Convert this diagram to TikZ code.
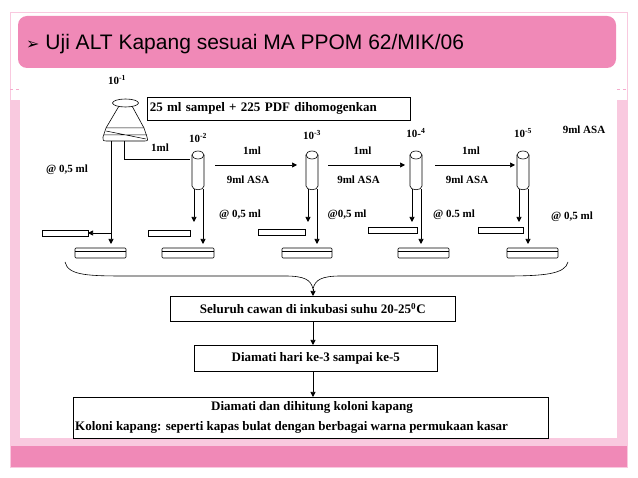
\documentclass[tikz,border=0pt]{standalone}
\usepackage{fontspec}
\setmainfont{Liberation Serif}
\newfontfamily\titlefont{Liberation Sans}
\newfontfamily\symfont{DejaVu Sans}
\usetikzlibrary{arrows.meta}
\definecolor{pinkdark}{HTML}{F089B7}
\definecolor{pinklight}{HTML}{F9C9DF}
\tikzset{
  lbl/.style={font=\fontsize{11}{13}\selectfont\bfseries, inner sep=0pt},
  stepbox/.style={draw, line width=0.6pt, fill=white, font=\fontsize{13}{15}\selectfont\bfseries},
  arr/.style={line width=0.7pt, -{Triangle[length=5pt,width=5pt]}},
  plate/.style={draw, line width=0.6pt, fill=white},
}
\begin{document}
\begin{tikzpicture}[x=1pt,y=-1pt]
\useasboundingbox (0,0) rectangle (638,478);
\fill[white] (0,0) rectangle (638,478);
% slide frame
\fill[pinklight] (10,100) rectangle (627,446);
\fill[white] (20,100) rectangle (617,438);
\fill[pinkdark] (10,446) rectangle (627,467);
\draw[pinklight, line width=0.5pt] (10,12) rectangle (627,467);
\draw[pinkdark!70, dashed, line width=0.4pt] (10,89) -- (20,89) (617,89) -- (627,89);
\fill[pinkdark, rounded corners=9pt] (18,16) rectangle (616,68);
\node[anchor=west, inner sep=0pt, font=\titlefont\fontsize{21}{24}\selectfont] (title) at (26,44) {{\symfont\fontsize{16}{18}\selectfont ➢}\ Uji ALT Kapang sesuai MA PPOM 62/MIK/06};

% flask
\node[lbl] (l1) at (117,80) {10\textsuperscript{-1}};
\draw[line width=0.6pt, fill=white] (119,106) -- (106,128) -- (103,137) .. controls (103,141) .. (108,141) -- (143,141) .. controls (148,141) .. (147,137) -- (144,128) -- (132,106);
\draw[line width=0.6pt, fill=white] (125.5,103) ellipse (13pt and 4pt);
\draw[line width=0.5pt] (106,128) -- (144,128) (106,131) -- (146,139) (104,135) -- (147,135);
\coordinate (fl) at (111,141);
\coordinate (fr) at (124,141);
\node[stepbox, minimum width=263pt, minimum height=23pt, anchor=north west, inner sep=2pt, text width=258pt, align=left] (b0) at (147,97) {25 ml sampel + 225 PDF dihomogenkan};

% tubes
\foreach \c/\n/\lab/\ly in {198/t1/10\textsuperscript{-2}/138, 312/t2/10\textsuperscript{-3}/135, 416/t3/10-\textsuperscript{4}/133, 523/t4/10\textsuperscript{-5}/133}{
  \draw[line width=0.6pt, fill=white] (\c-6,155) -- (\c-6,186) .. controls (\c-6,191) and (\c+6,191) .. (\c+6,186) -- (\c+6,155);
  \draw[line width=0.6pt, fill=white] (\c,155) ellipse (6pt and 4pt);
  \coordinate (\n) at (\c,190);
  \node[lbl] at (\c,\ly) {\lab};
  \draw[arr] (\c-4,189) -- (\c-4,222);
  \draw[arr] (\c+5,189) -- (\c+5,244);
}
% flask connections
\draw[line width=0.6pt] (fr) -- (124,159) -- (190,159);
\node[lbl] at (160,148) {1ml};
\draw[arr] (fl) -- (111,244);
\draw[arr] (111,233) -- (88,233);
\node[lbl] at (67,170) {@ 0,5 ml};

% transfers
\foreach \a/\b in {215/297, 328/405, 435/515}{
  \draw[arr] (\a,165) -- (\b,165);
  \node[lbl] at ({(\a+\b)/2-4},151) {1ml};
  \node[lbl] at ({(\a+\b)/2-8},180) {9ml ASA};
}
\node[lbl] at (584,130) {9ml ASA};
\node[lbl] at (240,215) {@ 0,5 ml};
\node[lbl] at (347,215) {@0,5 ml};
\node[lbl] at (454,215) {@ 0.5 ml};
\node[lbl] at (572,217) {@ 0,5 ml};

% plates
\foreach \a/\b/\y in {42/88/230, 148/190/230, 258/305/229, 368/417/227, 478/523/227}{
  \draw[plate] (\a,\y) rectangle (\b,\y+6);
}
\foreach \a/\b in {75/126, 162/214, 282/332, 398/449, 507/558}{
  \draw[plate, rounded corners=1pt] (\a,248) rectangle (\b,258);
  \draw[line width=0.5pt] (\a,251) -- (\b,251);
}

% brace
\draw[line width=0.6pt] (65,262) .. controls (68,276) and (90,276) .. (130,276) -- (285,276) .. controls (305,276) and (311,280) .. (313,289)
  .. controls (315,280) and (321,276) .. (341,276) -- (505,276) .. controls (545,276) and (565,274) .. (568,262);
\coordinate (bt) at (313,289);
\node[stepbox, minimum width=285pt, minimum height=25pt, anchor=north west] (b1) at (170,296) {Seluruh cawan di inkubasi suhu 20-25\textsuperscript{0}C};
\node[stepbox, minimum width=243pt, minimum height=26pt, anchor=north west] (b2) at (194,345) {Diamati hari ke-3 sampai ke-5};
\node[stepbox, minimum width=475pt, minimum height=41pt, anchor=north west, inner sep=0pt] (b3) at (73,397) {};
\node[lbl, font=\fontsize{13}{15}\selectfont\bfseries] at (312,407) {Diamati dan dihitung koloni kapang};
\node[lbl, font=\fontsize{13}{15}\selectfont\bfseries, anchor=west] at (75,427) {Koloni kapang: seperti kapas bulat dengan berbagai warna permukaan kasar};
\draw[arr] (bt) -- (bt |- b1.north);
\draw[arr] (bt |- b1.south) -- (bt |- b2.north);
\draw[arr] (bt |- b2.south) -- (bt |- b3.north);
\end{tikzpicture}
\end{document}
